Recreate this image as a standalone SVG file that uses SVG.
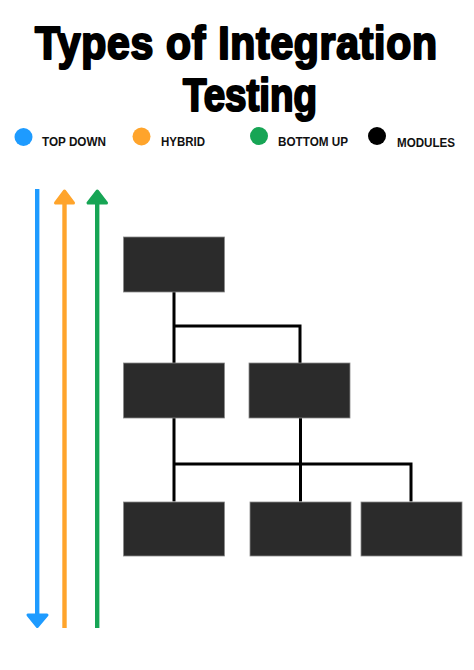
<svg xmlns="http://www.w3.org/2000/svg" width="474" height="670" viewBox="0 0 474 670">
<style>
.title{font-family:"Liberation Sans",Arial,sans-serif;font-weight:bold;font-size:41px;fill:#000;stroke:#000;stroke-width:2px;stroke-linejoin:round;}
.leg{font-family:"Liberation Sans",Arial,sans-serif;font-weight:bold;font-size:12.5px;fill:#111;}
.box{fill:#2b2b2b;stroke:#8a8a8a;stroke-width:0.8;}
.conn{fill:none;stroke:#000;stroke-width:3;stroke-linecap:square;}
.head{stroke-linejoin:round;stroke-width:3;}
</style>
<rect width="474" height="670" fill="#fff"/>
<g id="title">
<text class="title" transform="translate(236,58.5) scale(1,1.12)" x="0" y="0" text-anchor="middle" textLength="402" lengthAdjust="spacing">Types of Integration</text>
<text class="title" transform="translate(250,110.5) scale(1,1.12)" x="0" y="0" text-anchor="middle" textLength="134" lengthAdjust="spacingAndGlyphs">Testing</text>
</g>
<g id="legend">
<circle cx="23.5" cy="137" r="9" fill="#1E9BFF"/>
<text class="leg" x="42" y="146" textLength="64" lengthAdjust="spacingAndGlyphs">TOP DOWN</text>
<circle cx="141.5" cy="136.5" r="9" fill="#FFA42B"/>
<text class="leg" x="161" y="146" textLength="44" lengthAdjust="spacingAndGlyphs">HYBRID</text>
<circle cx="259" cy="136" r="9" fill="#17A555"/>
<text class="leg" x="278" y="146" textLength="70" lengthAdjust="spacingAndGlyphs">BOTTOM UP</text>
<circle cx="377" cy="136" r="9" fill="#000"/>
<text class="leg" x="397" y="147" textLength="58" lengthAdjust="spacingAndGlyphs">MODULES</text>
</g>
<g id="arrows">
<g id="arrow-topdown">
<rect x="35" y="189" width="4.4" height="428" fill="#1E9BFF"/>
<polygon class="head" points="28,615 47,615 37.3,626.5" fill="#1E9BFF" stroke="#1E9BFF"/>
</g>
<g id="arrow-hybrid">
<rect x="62.3" y="200" width="4.4" height="428" fill="#FFA42B"/>
<polygon class="head" points="55.5,203 73.5,203 64.5,191" fill="#FFA42B" stroke="#FFA42B"/>
</g>
<g id="arrow-bottomup">
<rect x="95" y="200" width="4.4" height="428" fill="#17A555"/>
<polygon class="head" points="88,203 106.5,203 97.3,191" fill="#17A555" stroke="#17A555"/>
</g>
</g>
<g id="connectors">
<path class="conn" d="M174,292 V362 M174,326 H300 V362"/>
<path class="conn" d="M174,418 V500 M300.5,418 V500 M174,464 H411 V500"/>
</g>
<g id="node-root"><rect class="box" x="123.5" y="237" width="101" height="55"/></g>
<g id="node-mid-left"><rect class="box" x="123.5" y="363" width="101" height="55"/></g>
<g id="node-mid-right"><rect class="box" x="249" y="363" width="101" height="55"/></g>
<g id="node-bottom-left"><rect class="box" x="123.5" y="502" width="101" height="54"/></g>
<g id="node-bottom-middle"><rect class="box" x="250" y="502" width="101" height="54"/></g>
<g id="node-bottom-right"><rect class="box" x="361" y="502" width="101" height="54"/></g>
</svg>
